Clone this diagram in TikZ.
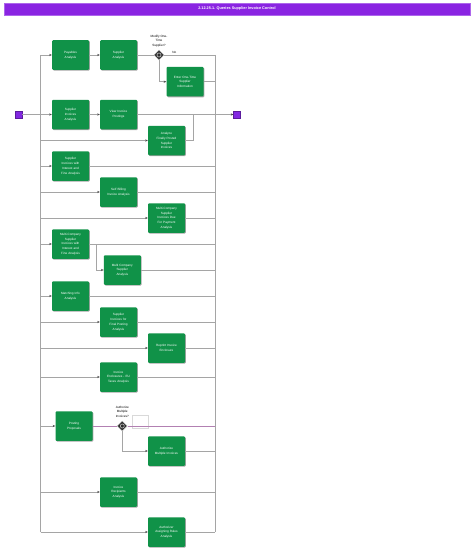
\documentclass[tikz,border=0pt]{standalone}
\usepackage{fontspec}
\newfontfamily\lsans{Liberation Sans}
\usetikzlibrary{arrows.meta,shapes.geometric,shadows,positioning}
\definecolor{boxgreen}{RGB}{16,146,72}
\definecolor{titlepurple}{RGB}{138,36,226}
\definecolor{evpurple}{RGB}{130,40,225}
\definecolor{linegray}{RGB}{165,165,165}
\definecolor{mauve}{RGB}{178,128,178}
\begin{document}
\begin{tikzpicture}[x=1pt,y=-1pt,
  stepbox/.style={rectangle, rounded corners=1pt, fill=boxgreen, text=white,
    minimum width=37pt, minimum height=29.5pt, inner sep=0pt, align=center,
    text width=34pt, font=\lsans\fontsize{3.1}{4.8}\selectfont,
    drop shadow={shadow xshift=0.8pt, shadow yshift=-0.8pt, opacity=0.35, fill=black}},
  event/.style={rectangle, fill=evpurple, draw=evpurple!70!black, line width=0.3pt,
    minimum size=7pt, inner sep=0pt},
  gate/.style={diamond, fill=gray!35!black, draw=gray!50, line width=0.4pt,
    minimum width=10pt, minimum height=10pt, inner sep=0pt,
    path picture={\draw[gray!65, line width=0.7pt] (path picture bounding box.center) circle (2pt);}},
  lab/.style={align=center, inner sep=0pt, font=\lsans\fontsize{3.1}{4.6}\selectfont, text=black},
  conn/.style={draw=linegray, line width=0.5pt},
  pconn/.style={draw=mauve, line width=0.5pt},
  arrow/.style={conn, -{Stealth[length=2.6pt,width=2.2pt,color=gray!60!black]}},
]
\path[fill=white] (0,0) rectangle (474,551);
\node[fill=titlepurple, draw=titlepurple!70!white, line width=0.3pt, minimum width=466pt, minimum height=11.4pt, inner sep=0pt,
  text=white, font=\lsans\bfseries\fontsize{3.8}{4.5}\selectfont] (title) at (237,9) {2.12.25.1. Queries Supplier Invoice Control};

% coordinates for split / merge lines
\coordinate (LT) at (40.5,55);
\coordinate (LB) at (40.5,532);
\coordinate (RT) at (215,55);
\coordinate (RB) at (215,532);
\coordinate (J) at (193,114.5);
\coordinate (B) at (96.7,244);

% nodes
\node[event] (start) at (18.5,114.5) {};
\node[event] (end) at (237,114.5) {};

\node[stepbox] (pay) at (70.5,55) {Payables\\Analysis};
\node[stepbox] (sa) at (118.5,55) {Supplier\\Analysis};
\node[gate] (gw1) at (159,55) {};
\node[lab, above=2.5pt of gw1] (gw1l) {Modify One-\\Time\\Supplier?};
\node[stepbox] (enter) at (185,81.7) {Enter One-Time\\Supplier\\Information};

\node[stepbox] (sia) at (70.5,114.5) {Supplier\\Invoices\\Analysis};
\node[stepbox] (vip) at (118.5,114.5) {View Invoice\\Postings};
\node[stepbox] (afp) at (166.5,140.5) {Analyze\\Finally Posted\\Supplier\\Invoices};
\node[stepbox] (siwi) at (70.5,166) {Supplier\\Invoices with\\Interest and\\Fine Analysis};
\node[stepbox] (sbi) at (118.5,192) {Self Billing\\Invoice Analysis};
\node[stepbox] (mcdue) at (166.5,218) {Multi-Company\\Supplier\\Invoices Due\\For Payment\\Analysis};
\node[stepbox] (mcwi) at (70.5,244) {Multi-Company\\Supplier\\Invoices with\\Interest and\\Fine Analysis};
\node[stepbox] (mcsa) at (122.3,270) {Multi Company\\Supplier\\Analysis};
\node[stepbox] (mia) at (70.5,296) {Matching Info\\Analysis};
\node[stepbox] (sifp) at (118.5,322) {Supplier\\Invoices for\\Final Posting\\Analysis};
\node[stepbox] (rie) at (166.5,348) {Reprint Invoice\\Enclosure};
\node[stepbox] (ieeu) at (118.5,377) {Invoice\\Enclosures - EU\\Taxes Analysis};
\node[stepbox] (pp) at (74,426) {Posting\\Proposals};
\node[gate] (gw2) at (122.3,426) {};
\node[lab, above=3pt of gw2] (gw2l) {Authorize\\Multiple\\Invoices?};
\node[draw=gray!30, line width=0.4pt, minimum width=16.6pt, minimum height=13pt, inner sep=0pt] (ghost) at (140,421.5) {};
\node[stepbox] (ami) at (166.5,451) {Authorize\\Multiple Invoices};
\node[stepbox] (ira) at (118.5,492) {Invoice\\Recipients\\Analysis};
\node[stepbox] (aar) at (166.5,532) {Authorizer\\Assigning Rules\\Analysis};

% split line
\draw[conn] (LB) -- (LT);
\draw[arrow] (LT) -- (pay);
\draw[arrow] (start) -- (sia);
\draw[arrow] (LT |- afp) -- (afp);
\draw[arrow] (LT |- siwi) -- (siwi);
\draw[arrow] (LT |- sbi) -- (sbi);
\draw[arrow] (LT |- mcdue) -- (mcdue);
\draw[arrow] (LT |- mcwi) -- (mcwi);
\draw[arrow] (LT |- mia) -- (mia);
\draw[arrow] (LT |- sifp) -- (sifp);
\draw[arrow] (LT |- rie) -- (rie);
\draw[arrow] (LT |- ieeu) -- (ieeu);
\draw[arrow] (LT |- pp) -- (pp);
\draw[arrow] (LT |- ira) -- (ira);
\draw[arrow] (LB) -- (aar);

% sequences
\draw[arrow] (pay) -- (sa);
\draw[conn] (sa) -- (gw1);
\draw[conn] (gw1) -- node[lab, pos=0.2, above=1.2pt] (nol) {No} (RT);
\draw[arrow] (gw1) |- (enter);
\draw[conn] (enter) -- (RT |- enter);
\draw[arrow] (sia) -- (vip);
\draw[arrow] (vip) -- (end);
\draw[conn] (afp) -| (J);
\draw[arrow] (B) |- (mcsa);
\draw[pconn] (pp) -- (gw2);
\draw[pconn] (gw2) -- (RT |- gw2);
\draw[arrow] (gw2) |- (ami);

% merge line
\draw[conn] (RT) -- (RB);
\draw[conn] (siwi) -- (RT |- siwi);
\draw[conn] (sbi) -- (RT |- sbi);
\draw[conn] (mcdue) -- (RT |- mcdue);
\draw[conn] (mcwi) -- (RT |- mcwi);
\draw[conn] (mcsa) -- (RT |- mcsa);
\draw[conn] (mia) -- (RT |- mia);
\draw[conn] (sifp) -- (RT |- sifp);
\draw[conn] (rie) -- (RT |- rie);
\draw[conn] (ieeu) -- (RT |- ieeu);
\draw[conn] (ami) -- (RT |- ami);
\draw[conn] (ira) -- (RT |- ira);
\draw[conn] (aar) -- (RB);
\fill[gray!70] (RT |- end) circle (0.7pt);
\end{tikzpicture}
\end{document}
